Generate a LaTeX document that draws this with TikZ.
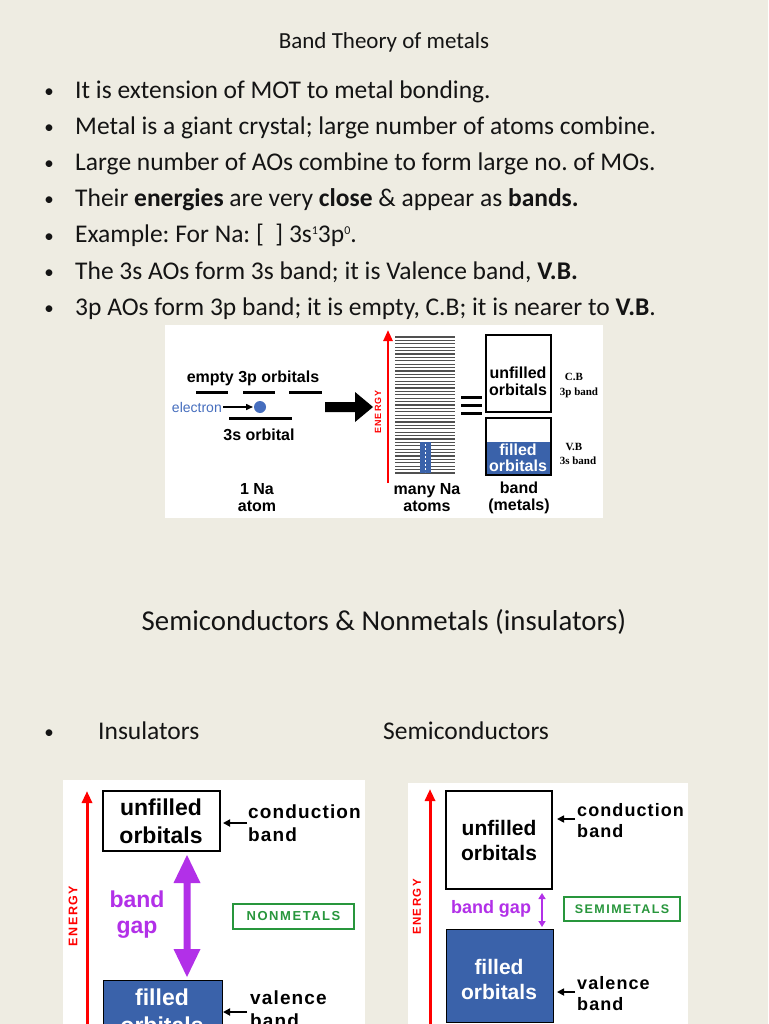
\documentclass[tikz,border=0pt]{standalone}
\usepackage{fontspec}
\setmainfont{Carlito}
\newfontfamily\arialf{Liberation Sans}
\newfontfamily\arialsp[LetterSpace=12]{Liberation Sans}
\newfontfamily\arialspb[LetterSpace=6]{Liberation Sans}
\newfontfamily\timesf{Liberation Serif}
\usetikzlibrary{arrows.meta}
\frenchspacing
\definecolor{bg}{RGB}{238,236,226}
\definecolor{txt}{RGB}{20,20,20}
\definecolor{fillblue}{RGB}{58,98,170}
\definecolor{eblue}{RGB}{70,110,190}
\definecolor{gapviolet}{RGB}{178,48,232}
\definecolor{metgreen}{RGB}{40,150,60}
\definecolor{linegray}{RGB}{80,80,80}
\newcommand{\fs}[1]{\fontsize{#1}{#1}\selectfont}
\newcommand{\supnum}[1]{\raisebox{8pt}{\fs{12}#1}}
\tikzset{
  slide/.style={text=txt, inner sep=0pt},
  bul/.style={slide, anchor=base west, font=\fs{25.5}},
  dotb/.style={slide, anchor=base, font=\fs{19}},
  lbl/.style={inner sep=0pt, align=center, font=\arialf\bfseries\fs{16}, text=black},
  big/.style={inner sep=0pt, align=center, font=\arialf\bfseries\fs{23}, text=black},
  sidelbl/.style={inner sep=0pt, align=left, anchor=west, font=\arialspb\bfseries\fs{19}, text=black},
  tlbl/.style={inner sep=0pt, font=\timesf\bfseries\fs{11}, text=black},
  energy/.style={inner sep=0pt, rotate=90, text=red, font=\arialsp\bfseries\fs{#1}},
  redarrow/.style={red, line width=3pt, -{Triangle[length=12pt,width=10pt]}},
  smallarrow/.style={black, line width=2pt, -{Triangle[length=7pt,width=7pt]}},
  metbox/.style={draw=metgreen, line width=1.2pt, text=metgreen, inner sep=0pt, font=\arialsp\bfseries\fs{13}},
  orbbox/.style={draw=black, line width=1.3pt},
  filledbox/.style={draw=black, line width=1pt, fill=fillblue},
}
\begin{document}
\begin{tikzpicture}[x=1pt,y=-1pt]
\fill[bg] (0,0) rectangle (768,1024);
\useasboundingbox (0,0) rectangle (768,1024);

% ---------- slide 1 text ----------
\node[slide, font=\fs{23}] (title) at (384,42) {Band Theory of metals};
\foreach \yy/\tt [count=\i] in {
  99/{It is extension of MOT to metal bonding.},
  135/{Metal is a giant crystal; large number of atoms combine.},
  171/{Large number of AOs combine to form large no. of MOs.},
  207/{Their \textbf{energies} are very \textbf{close} \& appear as \textbf{bands.}},
  243/{Example: For Na: [\ \ ] 3s\supnum{1}3p\supnum{0}.},
  279/{The 3s AOs form 3s band; it is Valence band, \textbf{V.B.}},
  315/{3p AOs form 3p band; it is empty, C.B; it is nearer to \textbf{V.B}.}}
{
  \node[bul] (b\i) at (75,\yy) {\tt};
  \node[dotb] (d\i) at (49,\yy-1) {•};
}

% ---------- figure 1 ----------
\fill[white] (165,325) rectangle (603,518);
\node[lbl] (empty) at (253,378) {empty 3p orbitals};
\draw[line width=3pt] (196,392) -- (228,392);
\draw[line width=3pt] (243,392) -- (275,392);
\draw[line width=3pt] (289,392) -- (322,392);
\node[inner sep=0pt, anchor=east, text=eblue, font=\arialf\fs{14}] (elec) at (222,407) {electron};
\fill[eblue] (260,407) circle (6);
\coordinate (dot) at (253,407);
\draw[line width=1.5pt, -{Triangle[length=7pt,width=6pt]}] (elec.east) ++(1,0) -- (dot);
\draw[line width=3pt] (229,418) -- (292,418);
\node[lbl] (s3) at (259,435) {3s orbital};
\node[lbl] (oneNa) at (257,498) {1 Na\\[1pt]atom};
\fill[black] (325,402) -- (355,402) -- (355,392) -- (373,407) -- (355,422) -- (355,412) -- (325,412) -- cycle;
\coordinate (e1a) at (388,483);
\coordinate (e1b) at (388,330);
\draw[red, line width=2.5pt, -{Triangle[length=11pt,width=9pt]}] (e1a) -- (e1b);
\node[energy=9] (en1) at (378,412) {ENERGY};
\foreach \k in {0,...,40} {
  \draw[linegray, line width=1.2pt] (395,{337+3.4*\k}) -- (455,{337+3.4*\k});
}
\fill[fillblue] (420,442) rectangle (431,473);
\draw[white, line width=0.8pt, dash pattern=on 2pt off 2pt] (425.5,444) -- (425.5,472);
\node[lbl] (manyNa) at (427,498) {many Na\\[1pt]atoms};
\foreach \yy in {397,405,413} { \draw[line width=3pt] (461,\yy) -- (482,\yy); }
\filldraw[fill=white, orbbox, line width=1.2pt] (486,335) rectangle (551,412);
\node[lbl] (unf1) at (518,381) {unfilled\\[1pt]orbitals};
\fill[fillblue] (486,442) rectangle (551,475);
\draw[orbbox, line width=1.2pt] (486,418) rectangle (551,475);
\node[lbl, text=white] (fil1) at (518,458) {filled\\[0pt]orbitals};
\node[tlbl] (cb) at (574,377) {C.B};
\node[tlbl] (cb3p) at (579,393) {3p band};
\node[tlbl] (vb) at (574,447) {V.B};
\node[tlbl] (vb3s) at (578,461) {3s band};
\node[lbl] (bandm) at (519,498) {band\\[1pt](metals)};

% ---------- slide 2 text ----------
\node[slide, font=\fs{28.8}] (title2) at (384,622) {Semiconductors \& Nonmetals (insulators)};
\node[dotb] (d8) at (49,738) {•};
\node[bul] (ins) at (98,739) {Insulators};
\node[bul] (semi) at (383,739) {Semiconductors};

% ---------- bottom left: insulators ----------
\fill[white] (63,780) rectangle (365,1024);
\coordinate (e2a) at (87,1030);
\coordinate (e2b) at (87,791);
\draw[redarrow] (e2a) -- (e2b);
\node[energy=12.5] (en2) at (73,916) {ENERGY};
\draw[orbbox] (103,791) rectangle (220,851);
\node[big] (unf2) at (161,821) {unfilled\\[5pt]orbitals};
\coordinate (ca1) at (247,823);
\coordinate (ca2) at (223,823);
\draw[smallarrow] (ca1) -- (ca2);
\node[sidelbl] (cond2) at (248,823) {conduction\\[4pt]band};
\fill[gapviolet] (183.5,883) -- (190.5,883) -- (190.5,883) -- (200.5,883) -- (187,855) -- (173.5,883) -- (183.5,883) -- (183.5,949) -- (173.5,949) -- (187,977) -- (200.5,949) -- (190.5,949) -- (190.5,883) -- cycle;
\node[big, text=gapviolet] (gap2) at (137,915) {band\\[3pt]gap};
\node[metbox, minimum width=121pt, minimum height=25pt] (nonmet) at (293.5,916.5) {NONMETALS};
\filldraw[filledbox] (103,980) rectangle (222,1040);
\node[big, text=white, anchor=north] (fil2) at (162,989) {filled\\[5pt]orbitals};
\coordinate (va1) at (247,1012);
\coordinate (va2) at (223,1012);
\draw[smallarrow] (va1) -- (va2);
\node[sidelbl, anchor=north west] (val2) at (250,991) {valence\\[4pt]band};

% ---------- bottom right: semiconductors ----------
\fill[white] (408,783) rectangle (688,1024);
\coordinate (e3a) at (430,1030);
\coordinate (e3b) at (430,789);
\draw[redarrow] (e3a) -- (e3b);
\node[energy=11.5] (en3) at (417,907) {ENERGY};
\draw[orbbox] (446,791) rectangle (552,889);
\node[big, font=\arialf\bfseries\fs{21}] (unf3) at (499,840) {unfilled\\[4pt]orbitals};
\coordinate (cb1) at (575,819);
\coordinate (cb2) at (557,819);
\draw[smallarrow, line width=1.6pt] (cb1) -- (cb2);
\node[sidelbl, font=\arialspb\bfseries\fs{18}] (cond3) at (577,821) {conduction\\[3pt]band};
\node[inner sep=0pt, text=gapviolet, font=\arialf\bfseries\fs{18}] (gap3) at (491,909) {band gap};
\coordinate (g3a) at (542,893);
\coordinate (g3b) at (542,927);
\draw[gapviolet, line width=2pt, {Triangle[length=6pt,width=7pt]}-{Triangle[length=6pt,width=7pt]}] (g3a) -- (g3b);
\node[metbox, minimum width=116pt, minimum height=24pt, font=\arialsp\bfseries\fs{12.5}] (semimet) at (622,909) {SEMIMETALS};
\filldraw[filledbox] (446,929) rectangle (553,1022);
\node[big, font=\arialf\bfseries\fs{21}, text=white] (fil3) at (499,979) {filled\\[4pt]orbitals};
\coordinate (vb1) at (575,992);
\coordinate (vb2) at (557,992);
\draw[smallarrow, line width=1.6pt] (vb1) -- (vb2);
\node[sidelbl, font=\arialspb\bfseries\fs{18}] (val3) at (577,994) {valence\\[3pt]band};
\end{tikzpicture}
\end{document}
